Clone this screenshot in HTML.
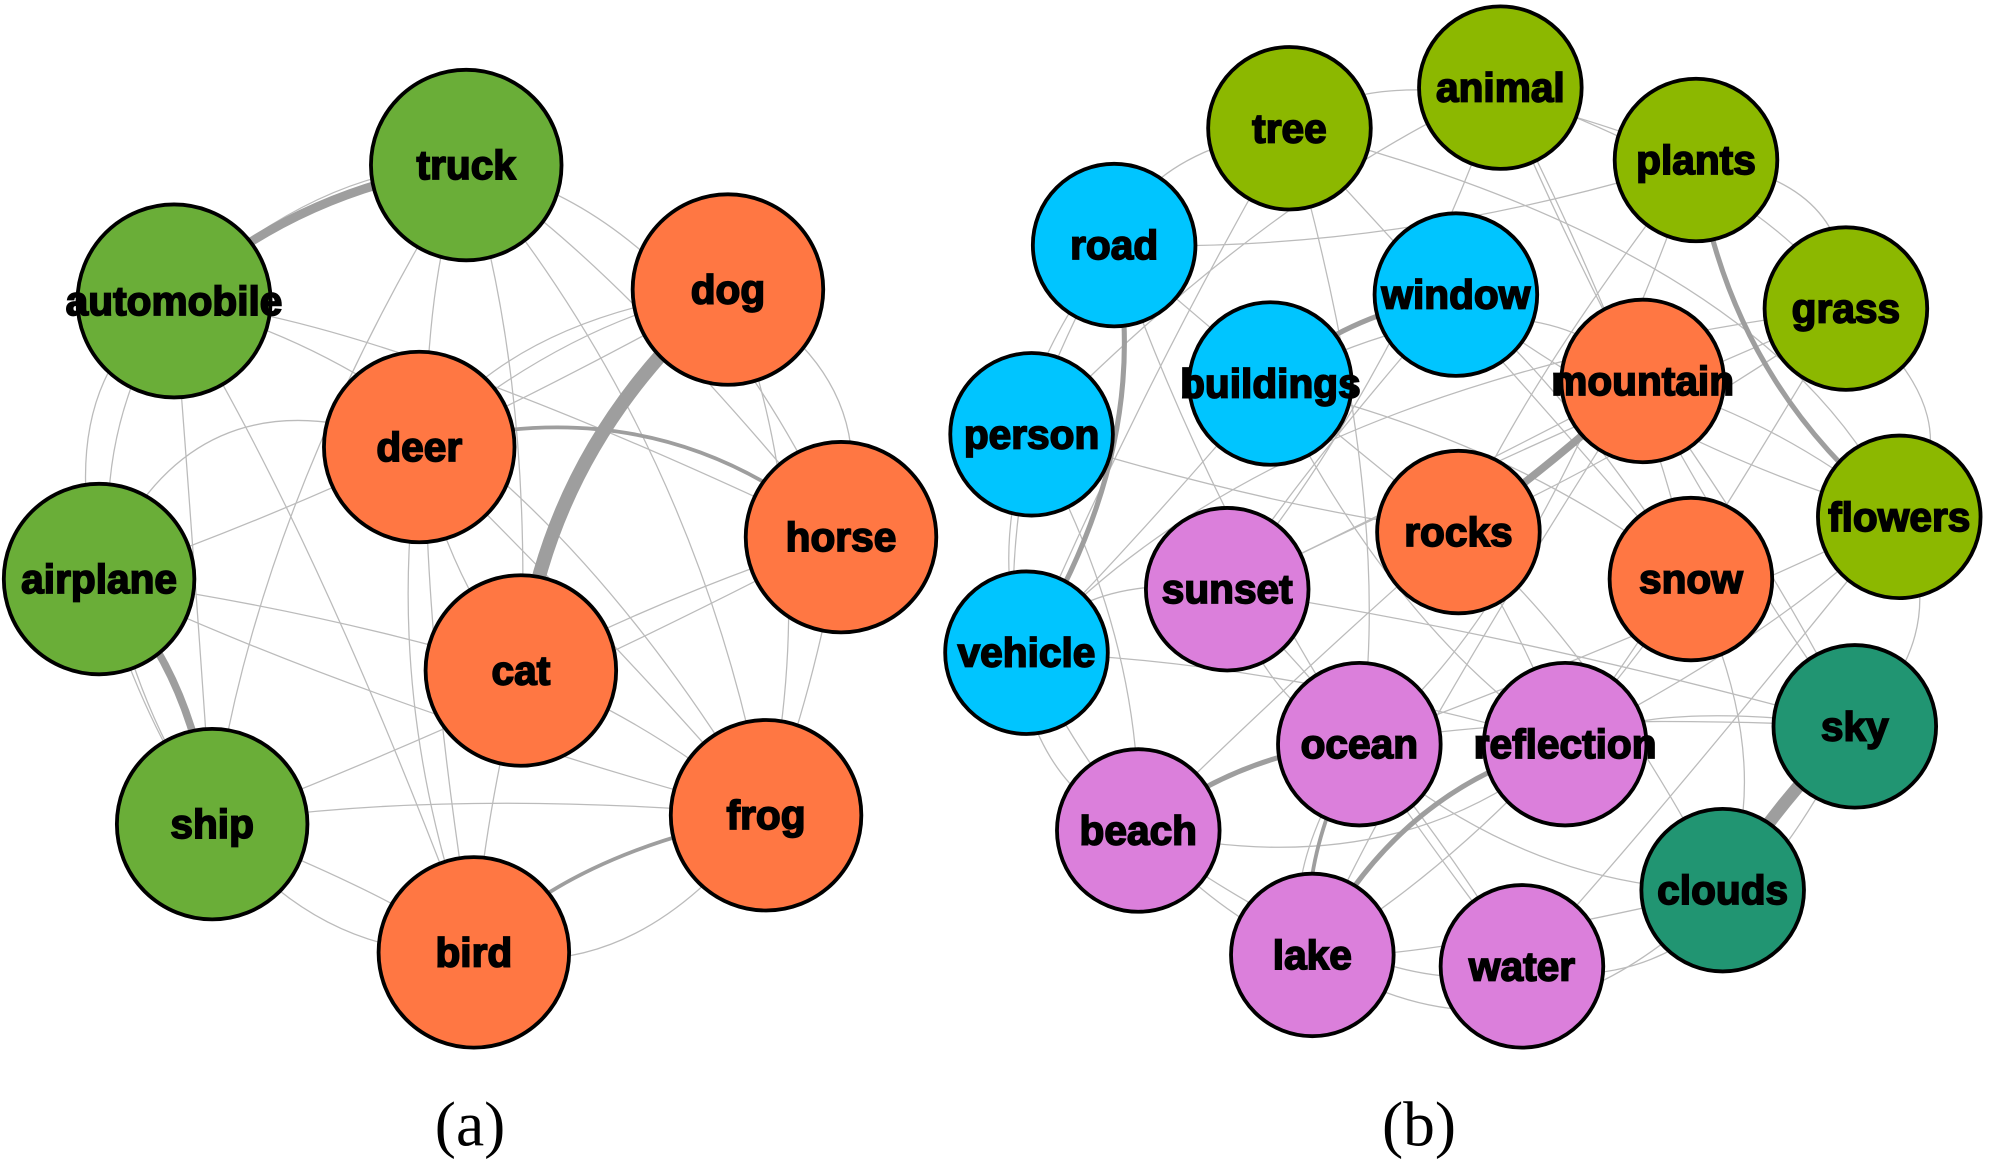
<!DOCTYPE html>
<html><head><meta charset="utf-8"><style>
html,body{margin:0;padding:0;background:#fff;}
svg{display:block}
text{font-family:"Liberation Sans",sans-serif;font-weight:bold;font-size:32px;text-anchor:middle;dominant-baseline:central;fill:#000;stroke:#000;stroke-width:1.3px}
.cap{font-family:"Liberation Serif",serif;font-weight:normal;font-size:50px;stroke:none}
.t line,.t path{stroke:#bbb;stroke-width:1;fill:none}
.k path{stroke:#9e9e9e;fill:none}
circle{stroke:#000;stroke-width:3}
</style></head><body>
<svg width="1992" height="1167" viewBox="0 0 1568 919" preserveAspectRatio="none">
<g class="t">
<!-- left thin -->
<path d="M367 130 Q300 300 373 750"/><path d="M367 130 Q480 200 662 423"/><path d="M137 237 Q300 250 662 423"/>
<path d="M137 237 Q400 300 603 642"/><path d="M137 237 Q250 420 373 750"/><path d="M78 456 Q300 380 573 228"/>
<path d="M78 456 Q300 560 603 642"/><path d="M78 456 Q250 480 410 528"/><path d="M167 649 Q400 560 662 423"/>
<path d="M167 649 Q300 700 373 750"/><path d="M167 649 Q150 400 137 237"/><path d="M330 352 Q500 520 603 642"/>
<path d="M330 352 Q300 550 373 750"/><path d="M410 528 Q520 470 662 423"/><path d="M410 528 Q380 650 373 750"/>
<path d="M573 228 Q650 420 603 642"/><path d="M662 423 Q640 550 603 642"/><path d="M367 130 Q550 350 603 642"/>
<path d="M78 456 Q40 300 137 237"/><path d="M78 456 Q170 760 373 750"/><path d="M367 130 Q200 400 167 649"/>
<path d="M573 228 Q400 250 330 352"/><path d="M330 352 Q350 450 410 528"/><path d="M137 237 Q250 130 367 130"/>
<path d="M603 642 Q500 780 373 750"/><path d="M167 649 Q350 620 603 642"/><path d="M367 130 Q420 300 410 528"/>
<path d="M367 130 Q540 160 662 423"/><path d="M137 237 Q20 420 167 649"/><path d="M573 228 Q700 300 662 423"/>
<path d="M330 352 Q450 250 573 228"/><path d="M78 456 Q150 280 330 352"/><path d="M410 528 Q500 560 603 642"/>
<!-- right thin -->
<path d="M1015 101 Q1200 300 1331 456"/><path d="M1015 101 Q1100 400 1070 586"/><path d="M1181 69 Q1300 300 1331 456"/>
<path d="M1181 69 Q1100 300 966 464"/><path d="M1335 126 Q1200 300 1148 419"/><path d="M1335 126 Q1100 200 877 193"/>
<path d="M877 193 Q1000 300 1148 419"/><path d="M877 193 Q950 400 1070 586"/><path d="M1146 232 Q1300 350 1495 407"/>
<path d="M1453 243 Q1300 350 1148 419"/><path d="M1453 243 Q1300 500 1232 586"/><path d="M1000 302 Q1200 350 1331 456"/>
<path d="M1293 300 Q1100 400 966 464"/><path d="M812 342 Q1000 400 1148 419"/><path d="M812 342 Q900 500 896 654"/>
<path d="M1495 407 Q1300 500 1070 586"/><path d="M1495 407 Q1300 650 1198 761"/><path d="M1148 419 Q1000 550 896 654"/>
<path d="M966 464 Q1200 500 1460 572"/><path d="M966 464 Q1100 600 1198 761"/><path d="M1331 456 Q1200 650 1033 752"/>
<path d="M808 514 Q1000 520 1232 586"/><path d="M808 514 Q900 700 1033 752"/><path d="M1460 572 Q1200 560 1070 586"/>
<path d="M1070 586 Q1200 700 1356 701"/><path d="M1232 586 Q1100 700 896 654"/><path d="M896 654 Q1100 800 1198 761"/>
<path d="M1356 701 Q1100 760 1033 752"/><path d="M1460 572 Q1300 350 1181 69"/><path d="M1015 101 Q900 300 808 514"/>
<path d="M1181 69 Q1400 150 1453 243"/><path d="M877 193 Q800 300 812 342"/><path d="M1293 300 Q1400 450 1460 572"/>
<path d="M1000 302 Q1100 500 1232 586"/><path d="M1146 232 Q1000 400 966 464"/><path d="M1335 126 Q1200 500 1070 586"/>
<path d="M1293 300 Q1100 600 1033 752"/><path d="M1148 419 Q1250 500 1356 701"/><path d="M812 342 Q1000 150 1181 69"/>
<path d="M1495 407 Q1400 200 1015 101"/><path d="M1453 243 Q1000 300 808 514"/><path d="M966 464 Q1200 350 1453 243"/>
<path d="M1331 456 Q1400 600 1356 701"/><path d="M1232 586 Q1400 500 1495 407"/><path d="M1070 586 Q1000 700 1033 752"/>
<path d="M1015 101 Q1100 30 1335 126"/><path d="M877 193 Q760 400 808 514"/><path d="M812 342 Q760 600 896 654"/>
<path d="M1198 761 Q1350 800 1460 572"/><path d="M1033 752 Q1200 860 1356 701"/><path d="M1495 407 Q1540 500 1460 572"/>
<path d="M1453 243 Q1560 330 1495 407"/><path d="M1335 126 Q1460 140 1453 243"/><path d="M1015 101 Q900 120 877 193"/>
<path d="M1000 302 Q1200 200 1293 300"/><path d="M1146 232 Q1230 300 1331 456"/><path d="M966 464 Q1000 560 1070 586"/>
<path d="M1148 419 Q1200 500 1232 586"/><path d="M1232 586 Q1300 550 1460 572"/><path d="M808 514 Q850 450 966 464"/>
<path d="M1000 302 Q900 420 808 514"/><path d="M1293 300 Q1400 330 1495 407"/><path d="M1070 586 Q1150 700 1198 761"/>
</g>
<g class="k">
<path d="M137 237 Q230 150 367 130" stroke-width="7"/>
<path d="M410 528 Q430 350 573 228" stroke-width="11"/>
<path d="M78 456 Q150 520 167 649" stroke-width="6"/>
<path d="M330 352 Q520 300 662 423" stroke-width="3"/>
<path d="M373 750 Q450 670 603 642" stroke-width="3"/>
<path d="M1460 572 Q1400 630 1356 701" stroke-width="10"/>
<path d="M1148 419 Q1230 360 1293 300" stroke-width="6"/>
<path d="M1335 126 Q1360 300 1495 407" stroke-width="4"/>
<path d="M877 193 Q910 350 808 514" stroke-width="4"/>
<path d="M1146 232 Q1050 250 1000 302" stroke-width="4"/>
<path d="M896 654 Q980 590 1070 586" stroke-width="4"/>
<path d="M1033 752 Q1100 620 1232 586" stroke-width="4"/>
<path d="M1070 586 Q1020 680 1033 752" stroke-width="3"/>
</g>
<g>
<circle cx="367" cy="130" r="75" fill="#6aae38"/><circle cx="137" cy="237" r="76" fill="#6aae38"/>
<circle cx="78" cy="456" r="75" fill="#6aae38"/><circle cx="167" cy="649" r="75" fill="#6aae38"/>
<circle cx="573" cy="228" r="75" fill="#ff7743"/><circle cx="330" cy="352" r="75" fill="#ff7743"/>
<circle cx="662" cy="423" r="75" fill="#ff7743"/><circle cx="410" cy="528" r="75" fill="#ff7743"/>
<circle cx="603" cy="642" r="75" fill="#ff7743"/><circle cx="373" cy="750" r="75" fill="#ff7743"/>
<circle cx="1015" cy="101" r="64" fill="#8cb800"/><circle cx="1181" cy="69" r="64" fill="#8cb800"/>
<circle cx="1335" cy="126" r="64" fill="#8cb800"/><circle cx="1453" cy="243" r="64" fill="#8cb800"/>
<circle cx="1495" cy="407" r="64" fill="#8cb800"/>
<circle cx="877" cy="193" r="64" fill="#00c5ff"/><circle cx="1146" cy="232" r="64" fill="#00c5ff"/>
<circle cx="1000" cy="302" r="64" fill="#00c5ff"/><circle cx="812" cy="342" r="64" fill="#00c5ff"/>
<circle cx="808" cy="514" r="64" fill="#00c5ff"/>
<circle cx="1293" cy="300" r="64" fill="#ff7743"/><circle cx="1148" cy="419" r="64" fill="#ff7743"/>
<circle cx="1331" cy="456" r="64" fill="#ff7743"/>
<circle cx="966" cy="464" r="64" fill="#db7fdb"/><circle cx="1070" cy="586" r="64" fill="#db7fdb"/>
<circle cx="1232" cy="586" r="64" fill="#db7fdb"/><circle cx="896" cy="654" r="64" fill="#db7fdb"/>
<circle cx="1033" cy="752" r="64" fill="#db7fdb"/><circle cx="1198" cy="761" r="64" fill="#db7fdb"/>
<circle cx="1460" cy="572" r="64" fill="#219572"/><circle cx="1356" cy="701" r="64" fill="#219572"/>
</g>
<g>
<text x="367" y="130">truck</text><text x="137" y="237">automobile</text><text x="78" y="456">airplane</text>
<text x="167" y="649">ship</text><text x="573" y="228">dog</text><text x="330" y="352">deer</text>
<text x="662" y="423">horse</text><text x="410" y="528">cat</text><text x="603" y="642">frog</text>
<text x="373" y="750">bird</text>
<text x="1015" y="101">tree</text><text x="1181" y="69">animal</text><text x="1335" y="126">plants</text>
<text x="1453" y="243">grass</text><text x="1495" y="407">flowers</text><text x="877" y="193">road</text>
<text x="1146" y="232">window</text><text x="1000" y="302">buildings</text><text x="812" y="342">person</text>
<text x="808" y="514">vehicle</text><text x="1293" y="300">mountain</text><text x="1148" y="419">rocks</text>
<text x="1331" y="456">snow</text><text x="966" y="464">sunset</text><text x="1070" y="586">ocean</text>
<text x="1232" y="586">reflection</text><text x="896" y="654">beach</text><text x="1033" y="752">lake</text>
<text x="1198" y="761">water</text><text x="1460" y="572">sky</text><text x="1356" y="701">clouds</text>
<text class="cap" x="370" y="885">(a)</text><text class="cap" x="1117" y="885">(b)</text>
</g>
</svg>
</body></html>
